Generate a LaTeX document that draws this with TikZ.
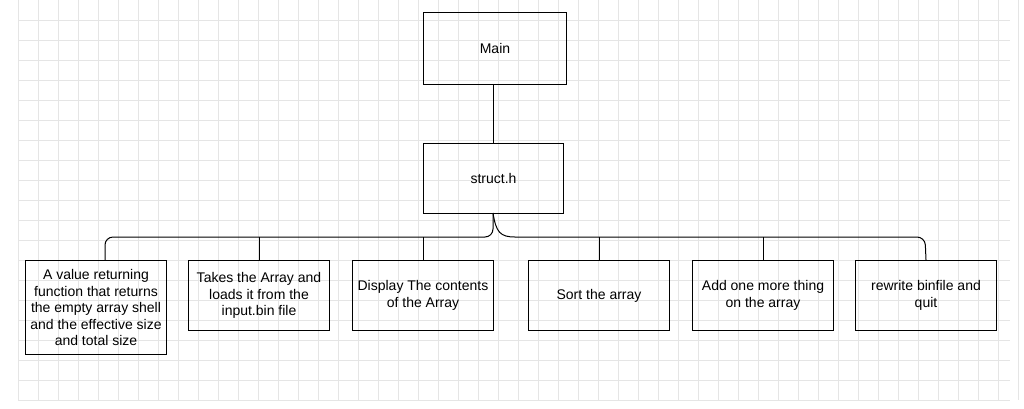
\documentclass[tikz,border=0pt]{standalone}
\usepackage{fontspec}
\setmainfont{Liberation Sans}
\begin{document}
\begin{tikzpicture}[x=1pt,y=-1pt,
  box/.style={draw,line width=1pt,anchor=north west,align=center,font=\fontsize{14}{16.5}\selectfont,inner sep=0pt},
  wire/.style={line width=1pt,rounded corners=8pt}]
\useasboundingbox (0,0) rectangle (1024,408);
\fill[white] (0,0) rectangle (1024,408);
\foreach \i in {0,...,50} \draw[black!10,line width=0.5pt] (18+\i*20,0) -- (18+\i*20,400);
\foreach \j in {0,...,19} \draw[black!10,line width=0.5pt] (18,20+\j*20) -- (1010,20+\j*20);
\node[box,minimum width=143pt,minimum height=72pt] (main) at (423,12) {Main};
\node[box,minimum width=140pt,minimum height=70pt] (st) at (423,143) {struct.h};
\node[box,minimum width=141pt,minimum height=94pt] (b1) at (25,260) {A value returning\\function that returns\\the empty array shell\\and the effective size\\and total size};
\node[box,minimum width=141pt,minimum height=70pt] (b2) at (188,260) {Takes the Array and\\loads it from the\\input.bin file};
\node[box,minimum width=141pt,minimum height=70pt] (b3) at (352,260) {Display The contents\\of the Array};
\node[box,minimum width=141pt,minimum height=70pt] (b4) at (528,260) {Sort the array};
\node[box,minimum width=141pt,minimum height=70pt] (b5) at (692,260) {Add one more thing\\on the array};
\node[box,minimum width=141pt,minimum height=70pt] (b6) at (855,260) {rewrite binfile and\\quit};
\draw[line width=1pt] (main.south -| st.south) -- (st.north);
\coordinate (j) at (493,213);
\draw[wire] (j) -- (493,237) -- (105,237) -- (b1.north -| 105,0);
\draw[line width=1pt] (j) .. controls (496,232) and (500,237) .. (515,237);
\draw[wire] (515,237) -- (925,237) -- (b6.north);
\draw[line width=1pt] (b2.north) -- (b2.north |- 0,237);
\draw[line width=1pt] (b3.north) -- (b3.north |- 0,237);
\draw[line width=1pt] (b4.north) -- (b4.north |- 0,237);
\draw[line width=1pt] (b5.north) -- (b5.north |- 0,237);
\end{tikzpicture}
\end{document}
